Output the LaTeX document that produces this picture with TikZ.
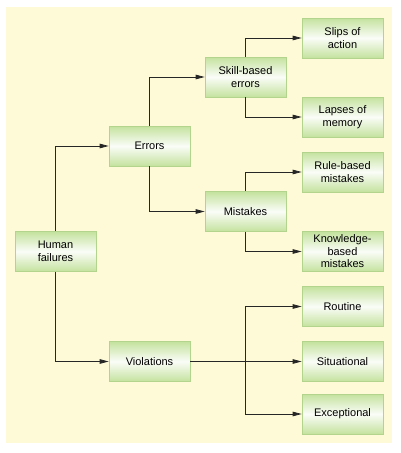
\documentclass[tikz,border=0pt]{standalone}
\usepackage{fontspec}
\setmainfont{Liberation Sans}
\usetikzlibrary{arrows.meta}

\definecolor{paper}{RGB}{254,249,215}
\definecolor{leaf}{RGB}{196,226,158}
\definecolor{leafedge}{RGB}{178,212,140}

\tikzset{
    box/.style={rectangle, draw=leafedge, line width=0.6pt,
        top color=leaf, bottom color=leaf, middle color=white!92!leaf,
        minimum width=81pt, minimum height=40pt, inner sep=1pt,
        align=center, font=\fontsize{11}{12.5}\selectfont},
    link/.style={draw=black!85, line width=0.8pt,
        -{Triangle[length=9pt,width=4.5pt]}}
}

\begin{document}
\begin{tikzpicture}[x=1pt,y=-1pt]
    \useasboundingbox (0,0) rectangle (400,453);
    \fill[paper] (6,7) rectangle (392,443);

    \node [box] (human) at (55.5,251.5) {Human\\failures};
    \node [box] (errors) at (149.5,146) {Errors};
    \node [box] (violations) at (149.5,361.5) {Violations};
    \node [box] (skill) at (245.5,77) {Skill-based\\errors};
    \node [box] (mistakes) at (245.5,211.5) {Mistakes};
    \node [box] (slips) at (342.5,38) {Slips of\\action};
    \node [box] (lapses) at (342.5,117) {Lapses of\\memory};
    \node [box] (rule) at (342.5,172) {Rule-based\\mistakes};
    \node [box] (knowledge) at (342.5,251.5) {Knowledge-\\based\\mistakes};
    \node [box] (routine) at (342.5,306.5) {Routine};
    \node [box] (situational) at (342.5,361.5) {Situational};
    \node [box] (exceptional) at (342.5,414) {Exceptional};

    \coordinate (fork) at (skill.south |- violations.east);

    \draw [link] (human) |- (errors);
    \draw [link] (human) |- (violations);
    \draw [link] (errors) |- (skill);
    \draw [link] (errors) |- (mistakes);
    \draw [link] (skill) |- (slips);
    \draw [link] (skill) |- (lapses);
    \draw [link] (mistakes) |- (rule);
    \draw [link] (mistakes) |- (knowledge);
    \draw [link] (violations) -- (situational);
    \draw [link] (fork) |- (routine);
    \draw [link] (fork) |- (exceptional);
\end{tikzpicture}
\end{document}
